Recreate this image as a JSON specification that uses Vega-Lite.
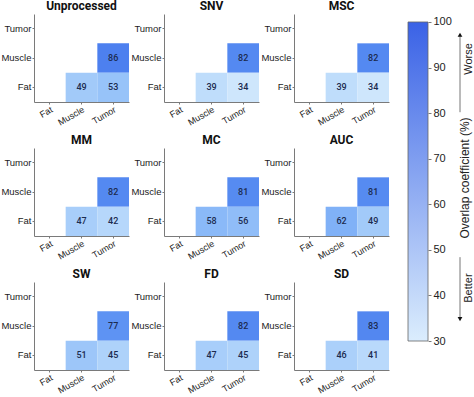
{
  "$schema": "https://vega.github.io/schema/vega-lite/v6.json",
  "padding": {"left": 0, "top": 0, "right": 0, "bottom": 0},
  "background": "white",
  "config": {
    "font": "Roboto",
    "view": {"stroke": null},
    "axis": {"grid": false, "domainColor": "#7a7a7a", "tickColor": "#7a7a7a", "labelColor": "#222", "labelFont": "Liberation Sans", "labelFontSize": 9.5, "tickSize": 2, "labelPadding": 0, "title": null}
  },
  "datasets": {
    "cells": [
      {"method": "Unprocessed", "row": "Muscle", "col": "Tumor", "value": 86},
      {"method": "Unprocessed", "row": "Fat", "col": "Muscle", "value": 49},
      {"method": "Unprocessed", "row": "Fat", "col": "Tumor", "value": 53},
      {"method": "SNV", "row": "Muscle", "col": "Tumor", "value": 82},
      {"method": "SNV", "row": "Fat", "col": "Muscle", "value": 39},
      {"method": "SNV", "row": "Fat", "col": "Tumor", "value": 34},
      {"method": "MSC", "row": "Muscle", "col": "Tumor", "value": 82},
      {"method": "MSC", "row": "Fat", "col": "Muscle", "value": 39},
      {"method": "MSC", "row": "Fat", "col": "Tumor", "value": 34},
      {"method": "MM", "row": "Muscle", "col": "Tumor", "value": 82},
      {"method": "MM", "row": "Fat", "col": "Muscle", "value": 47},
      {"method": "MM", "row": "Fat", "col": "Tumor", "value": 42},
      {"method": "MC", "row": "Muscle", "col": "Tumor", "value": 81},
      {"method": "MC", "row": "Fat", "col": "Muscle", "value": 58},
      {"method": "MC", "row": "Fat", "col": "Tumor", "value": 56},
      {"method": "AUC", "row": "Muscle", "col": "Tumor", "value": 81},
      {"method": "AUC", "row": "Fat", "col": "Muscle", "value": 62},
      {"method": "AUC", "row": "Fat", "col": "Tumor", "value": 49},
      {"method": "SW", "row": "Muscle", "col": "Tumor", "value": 77},
      {"method": "SW", "row": "Fat", "col": "Muscle", "value": 51},
      {"method": "SW", "row": "Fat", "col": "Tumor", "value": 45},
      {"method": "FD", "row": "Muscle", "col": "Tumor", "value": 82},
      {"method": "FD", "row": "Fat", "col": "Muscle", "value": 47},
      {"method": "FD", "row": "Fat", "col": "Tumor", "value": 45},
      {"method": "SD", "row": "Muscle", "col": "Tumor", "value": 83},
      {"method": "SD", "row": "Fat", "col": "Muscle", "value": 46},
      {"method": "SD", "row": "Fat", "col": "Tumor", "value": 41}
    ]
  },
  "hconcat": [
    {
      "data": {"name": "cells"},
      "facet": {
        "field": "method", "type": "nominal",
        "sort": ["Unprocessed", "SNV", "MSC", "MM", "MC", "AUC", "SW", "FD", "SD"],
        "header": {"title": null, "labelFontSize": 12, "labelFontWeight": "bold", "labelColor": "#111", "labelPadding": 1}
      },
      "columns": 3,
      "spacing": {"column": 1, "row": 6},
      "resolve": {"axis": {"x": "independent", "y": "independent"}},
      "spec": {
        "width": 95,
        "height": 88,
        "layer": [
          {
            "mark": {"type": "rect"},
            "encoding": {
              "x": {"field": "col", "type": "nominal", "scale": {"domain": ["Fat", "Muscle", "Tumor"], "paddingInner": 0, "paddingOuter": 0}, "axis": {"labelAngle": -30, "labelPadding": 1, "labelFontSize": 9}},
              "y": {"field": "row", "type": "nominal", "scale": {"domain": ["Tumor", "Muscle", "Fat"], "paddingInner": 0, "paddingOuter": 0}, "axis": {"labelPadding": 1}},
              "color": {"field": "value", "type": "quantitative", "scale": {"domain": [30, 100], "range": ["#dbedfd", "#3a62e6"]}, "legend": null}
            }
          },
          {
            "mark": {"type": "text", "fontSize": 9, "fontWeight": 500, "color": "#1c2b4f"},
            "encoding": {
              "x": {"field": "col", "type": "nominal"},
              "y": {"field": "row", "type": "nominal"},
              "text": {"field": "value", "type": "quantitative"}
            }
          }
        ]
      }
    },
    {
      "width": 20,
      "height": 327,
      "data": {"values": [{"lo": 30, "hi": 100}]},
      "layer": [
        {
          "mark": {"type": "rect", "stroke": "#666", "strokeWidth": 0.8, "color": {"gradient": "linear", "x1": 0, "y1": 1, "x2": 0, "y2": 0, "stops": [{"offset": 0, "color": "#dbedfd"}, {"offset": 1, "color": "#3a62e6"}]}},
          "encoding": {
            "y": {"field": "lo", "type": "quantitative", "scale": {"domain": [30, 101.75], "nice": false, "zero": false},
              "axis": {"orient": "right", "values": [30, 40, 50, 60, 70, 80, 90, 100], "title": "Overlap coefficient (%)", "titleAngle": 270, "titleFont": "Liberation Sans", "titleFontSize": 12, "titleFontWeight": "normal", "titleColor": "#222", "titlePadding": 20, "domain": false, "tickSize": 3, "labelFontSize": 11, "labelPadding": 2}},
            "y2": {"field": "hi"},
            "x": {"datum": 0, "type": "quantitative", "scale": {"domain": [0, 1], "nice": false, "zero": false}, "axis": null},
            "x2": {"datum": 1}
          }
        },
        {
          "mark": {"type": "text", "angle": 270, "font": "Liberation Sans", "fontSize": 11, "color": "#222", "align": "center", "baseline": "middle"},
          "encoding": {"x": {"datum": 3.05, "type": "quantitative"}, "y": {"datum": 91.9, "type": "quantitative"}, "text": {"value": "Worse"}}
        },
        {
          "mark": {"type": "text", "angle": 270, "font": "Liberation Sans", "fontSize": 11, "color": "#222", "align": "center", "baseline": "middle"},
          "encoding": {"x": {"datum": 3.05, "type": "quantitative"}, "y": {"datum": 41.6, "type": "quantitative"}, "text": {"value": "Better"}}
        },
        {
          "mark": {"type": "rule", "color": "#777", "strokeWidth": 1},
          "encoding": {"x": {"datum": 2.6, "type": "quantitative"}, "y": {"datum": 80.2, "type": "quantitative"}, "y2": {"datum": 97}}
        },
        {
          "mark": {"type": "rule", "color": "#777", "strokeWidth": 1},
          "encoding": {"x": {"datum": 2.6, "type": "quantitative"}, "y": {"datum": 48.4, "type": "quantitative"}, "y2": {"datum": 35}}
        },
        {
          "mark": {"type": "point", "shape": "triangle-up", "filled": true, "color": "#111", "size": 22, "opacity": 1},
          "encoding": {"x": {"datum": 2.6, "type": "quantitative"}, "y": {"datum": 97.2, "type": "quantitative"}}
        },
        {
          "mark": {"type": "point", "shape": "triangle-down", "filled": true, "color": "#111", "size": 22, "opacity": 1},
          "encoding": {"x": {"datum": 2.6, "type": "quantitative"}, "y": {"datum": 34.8, "type": "quantitative"}}
        }
      ]
    }
  ],
  "spacing": 18
}
